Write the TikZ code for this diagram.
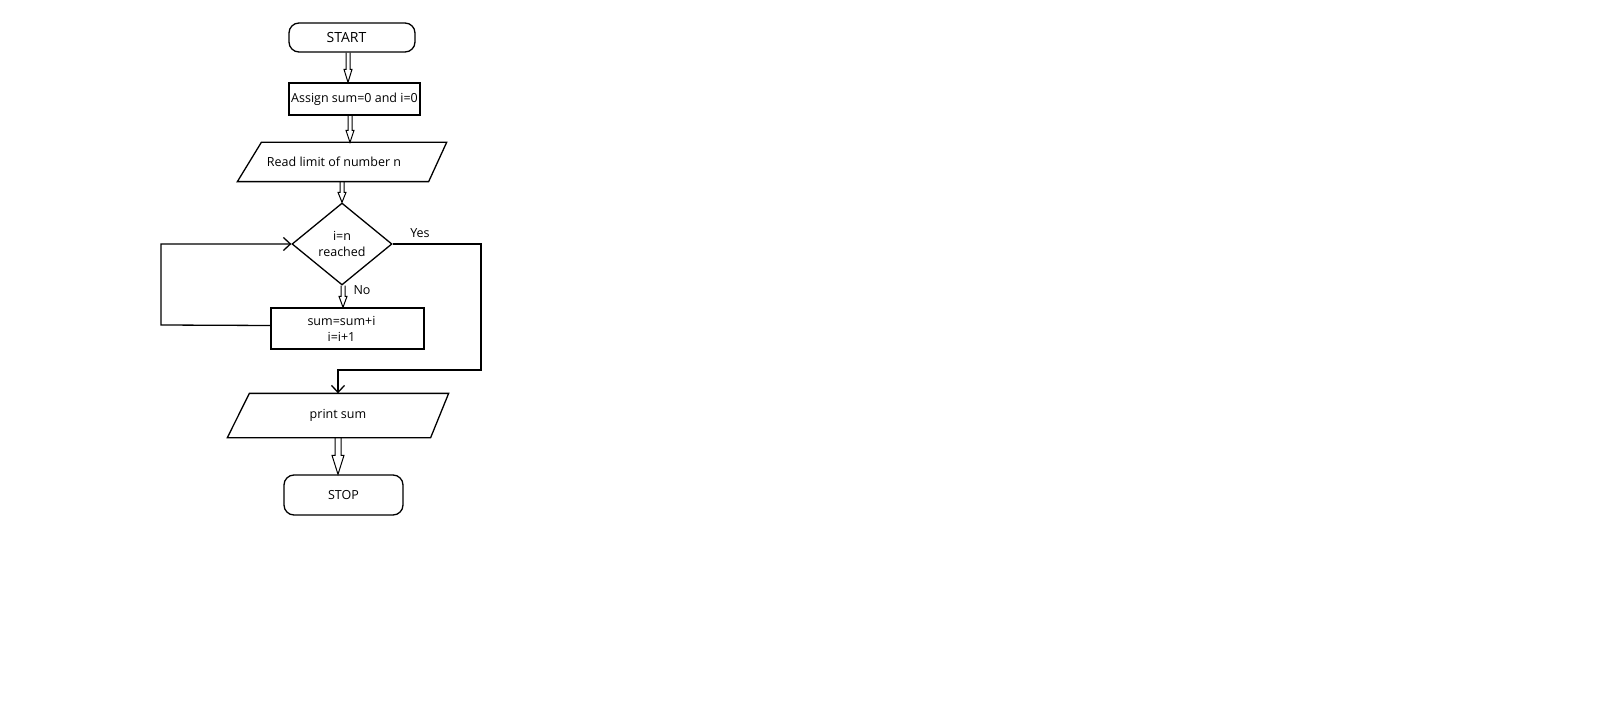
\documentclass[tikz,border=0pt]{standalone}
\usepackage{fontspec}
\setmainfont{Open Sans}
\usetikzlibrary{shapes.geometric,arrows.meta,calc}
\tikzset{
  base/.style={draw, line width=1.3pt, inner sep=0pt, font=\fontsize{12.5pt}{16pt}\selectfont, align=center},
  term/.style={base, rectangle, rounded corners=10pt},
  procbox/.style={base, rectangle},
  parabox/.style={base, draw=none, rectangle},
  decis/.style={base, diamond},
  txt/.style={font=\fontsize{12.5pt}{16pt}\selectfont, inner sep=0pt},
  bigtxt/.style={font=\fontsize{14pt}{17pt}\selectfont, inner sep=0pt},
  flow/.style={line width=1.3pt},
  barb/.style={flow, -{Straight Barb[length=7pt,width=13pt,line width=1.3pt]}}
}
\newcommand\blockarrow[6]{%
  \draw[line width=1pt] let \p1=($(#1)+(#3,0)$), \p2=(#2) in
    (\x1-#4pt,\y1) -- (\x1-#4pt,\y2+#6pt) -- (\x1-#5pt,\y2+#6pt) -- (\x1,\y2)
    -- (\x1+#5pt,\y2+#6pt) -- (\x1+#4pt,\y2+#6pt) -- (\x1+#4pt,\y1);}
\newcommand\paraoutline[3]{%
  \draw[line width=1.3pt] ($(#1.north west)+(#2,0)$) -- (#1.north east)
    -- ($(#1.south east)+(-#3,0)$) -- (#1.south west) -- cycle;}
\begin{document}
\begin{tikzpicture}[x=1pt,y=-1pt]
\useasboundingbox (0,0) rectangle (1600,722);
\fill[white] (0,0) rectangle (1600,722);

\node[term, minimum width=126pt, minimum height=29pt,
      label={[bigtxt, xshift=-5.5pt]center:START}] (start) at (352,37.5) {};
\node[procbox, minimum width=131pt, minimum height=32pt] (assign) at (354.5,99) {Assign sum=0 and i=0};
\node[parabox, minimum width=208pt, minimum height=38pt,
      label={[txt, xshift=-8pt]center:Read limit of number n}] (read) at (342,162) {};
\paraoutline{read}{24}{18}
\node[decis, minimum width=100pt, minimum height=82pt] (dec) at (342,244) {i=n\\reached};
\node[procbox, minimum width=153pt, minimum height=41pt,
      label={[txt, xshift=-6pt, align=center]center:sum=sum+i\\i=i+1}] (sum) at (347.5,328.5) {};
\node[parabox, minimum width=220pt, minimum height=43pt] (print) at (338,415.5) {print sum};
\paraoutline{print}{22}{18}
\node[term, minimum width=119pt, minimum height=40pt] (stop) at (343.5,495) {STOP};

\node[txt] (yes) at (420,233) {Yes};
\node[txt] (no) at (362,290) {No};

\blockarrow{start.south}{assign.north}{-4}{2}{4}{13}
\blockarrow{assign.south}{read.north}{-4.5}{2}{4}{12}
\blockarrow{read.south}{dec.north}{0}{2}{4}{10}
\blockarrow{dec.south}{sum.north}{1}{2}{4}{11}
\blockarrow{print.south}{stop.north}{0}{3}{6}{19}

\coordinate (loopL) at (161,325);
\draw[barb] ($(sum.west)+(0,-3)$) -- (loopL) |- (dec.west);

\coordinate (yesR) at (481,370);
\draw[barb] (dec.east) -| (yesR) -| (print.north);
\end{tikzpicture}
\end{document}
